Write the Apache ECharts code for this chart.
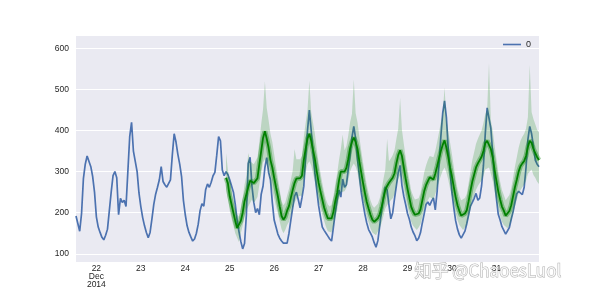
<!DOCTYPE html>
<html><head><meta charset="utf-8">
<script src="https://cdn.jsdelivr.net/npm/echarts@6/dist/echarts.min.js"></script>
<style>html,body{margin:0;padding:0;background:#fff}#c{width:600px;height:300px}</style>
</head><body><div id="c"></div>
<script>
// hours counted from Dec 21 2014 00:00
const firstHour = 13;
const lastHour = 263;
const forecastStartHour = 94;
const dayTickLabels = ['22\nDec\n2014','23','24','25','26','27','28','29','30','31'];
const yTickValues = [100,200,300,400,500,600];
const legendNames = ['0'];

const observed = [
192,192,155,198,283,318,338,336,312,288,250,
190,165,152,140,134,145,160,205,250,290,300,285,195,235,225,230,215,300,385,420,350,325,300,248,
215,188,168,152,139,152,185,220,245,262,280,312,276,268,262,266,280,340,392,372,342,318,288,230,
195,168,152,141,131,136,150,172,205,222,216,256,270,262,274,290,298,340,385,375,304,290,300,293,
280,265,250,220,182,154,130,112,125,195,320,335,265,225,200,210,195,245,265,310,334,298,280,225,
182,165,148,138,131,126,128,126,150,182,212,240,250,232,212,236,264,335,400,450,400,345,295,255,
217,190,165,157,150,143,136,131,165,200,231,255,238,282,262,268,305,340,383,410,380,330,290,250,
222,196,175,159,150,141,127,116,132,168,205,236,263,255,218,185,200,235,266,298,315,266,240,220,
198,184,165,153,144,132,138,151,175,197,220,226,218,228,236,207,252,318,385,442,472,432,355,300,
248,212,180,160,146,138,138,155,173,195,216,225,235,247,230,236,265,315,393,455,455,405,345,280,
235,196,182,166,157,148,144,164,184,202,225,246,252,255,244,262,310,378,410,392,362,328,318,312
];

const forecastMean = [
285,272,
240,220,200,180,163,160,180,200,228,245,262,278,276,272,276,284,318,350,382,398,380,358,328,310,
285,262,240,215,192,183,190,205,216,236,255,272,283,286,284,290,328,355,380,392,375,352,330,300,
273,252,232,212,198,186,183,186,202,228,248,278,300,297,300,309,330,357,372,383,372,355,325,298,
272,248,226,210,195,183,178,176,186,196,213,235,255,265,273,279,285,296,320,340,352,338,310,283,
258,236,214,203,195,191,198,208,230,252,267,277,286,285,281,295,313,332,350,365,376,358,336,310,
288,262,238,218,204,193,192,198,206,228,253,276,293,310,320,328,336,350,369,375,376,355,335,305,
278,252,232,215,205,193,196,204,218,240,262,280,300,313,320,326,338,360,375,370,355,345,335,328
];

const forecastLow = [
255,235,
205,185,168,150,132,128,150,168,190,205,215,235,232,225,230,238,268,295,322,330,318,300,272,255,
235,215,198,178,160,150,158,170,178,195,210,225,238,240,238,242,275,298,318,325,315,295,275,250,
228,210,195,180,165,155,150,152,168,188,205,232,250,248,252,260,278,300,312,320,312,298,270,248,
228,208,190,176,162,152,148,145,154,162,175,192,210,218,226,230,235,245,265,282,292,280,258,235,
215,196,178,168,162,158,164,172,190,208,222,230,238,236,232,245,260,275,290,302,310,298,280,258,
240,218,198,182,170,160,158,164,170,188,208,228,242,256,265,272,278,290,305,310,310,295,278,252,
230,210,192,178,170,160,162,168,180,198,215,230,248,258,262,268,278,295,308,305,292,285,275,270
];

const forecastHigh = [
345,305,
280,255,232,212,195,190,212,235,268,290,345,325,322,318,322,335,372,415,452,520,455,425,392,372,
342,312,285,255,228,218,225,242,258,280,302,355,330,332,330,338,385,418,450,522,445,418,392,355,
322,298,272,250,232,220,215,220,240,270,295,328,355,390,352,362,388,420,440,525,442,420,385,352,
322,295,268,248,230,218,212,210,222,235,255,282,305,380,325,332,340,352,380,405,480,402,368,335,
305,280,254,242,232,228,235,248,272,298,315,328,338,338,335,350,372,395,420,440,505,428,400,370,
342,312,282,258,242,230,228,236,246,272,300,328,348,368,380,390,400,418,440,450,565,425,400,365,
332,300,276,255,243,230,233,243,260,285,312,335,358,375,385,392,405,432,560,445,428,415,402,395
];

const hours = [];
for (let h = firstHour; h <= lastHour; h++) hours.push(String(h));
const pad = new Array(forecastStartHour - firstHour).fill(null);
const lowData = pad.concat(forecastLow);
const spanData = pad.concat(forecastHigh.map((v, i) => v - forecastLow[i]));
const meanData = pad.concat(forecastMean);

const chart = echarts.init(document.getElementById('c'), null, {renderer: 'canvas'});
const fontFam = '"Liberation Sans", Arial, sans-serif';
chart.setOption({
  animation: false,
  backgroundColor: '#ffffff',
  grid: {left: 76, right: 61, top: 36, bottom: 38, show: true, backgroundColor: '#EAEAF2', borderWidth: 0},
  legend: {
    data: [{name: legendNames[0], icon: 'rect'}],
    left: 503, top: 40, padding: 0,
    itemWidth: 18, itemHeight: 1.6, itemGap: 5,
    textStyle: {fontSize: 9, color: '#262626', fontFamily: fontFam}
  },
  xAxis: {
    type: 'category', data: hours, boundaryGap: false,
    axisLine: {show: false}, axisTick: {show: false}, splitLine: {show: false},
    axisLabel: {
      interval: (idx) => (firstHour + idx) % 24 === 0,
      formatter: (val) => {
        const h = Number(val);
        return dayTickLabels[(h - 24) / 24] || '';
      },
      color: '#262626', fontSize: 8.5, lineHeight: 8, margin: 3, fontFamily: fontFam
    }
  },
  yAxis: {
    type: 'value', min: 80, max: 630,
    axisLine: {show: false}, axisTick: {show: false},
    axisLabel: {customValues: yTickValues, color: '#262626', fontSize: 8.5, margin: 7, fontFamily: fontFam},
    splitLine: {show: true, showMinLine: false, showMaxLine: false, lineStyle: {color: '#ffffff', width: 1.2}}
  },
  series: [
    {name: legendNames[0], type: 'line', data: observed, showSymbol: false, symbol: 'none',
     lineStyle: {color: '#4C72B0', width: 1.7}, itemStyle: {color: '#4C72B0'}, z: 2},
    {name: 'lo', type: 'line', data: lowData, stack: 'band', showSymbol: false, symbol: 'none',
     lineStyle: {opacity: 0}, z: 3},
    {name: 'band', type: 'line', data: spanData, stack: 'band', showSymbol: false, symbol: 'none',
     lineStyle: {opacity: 0}, areaStyle: {color: 'rgba(0,128,0,0.28)'}, z: 3},
    {name: 'halo', type: 'line', data: meanData, showSymbol: false, symbol: 'none',
     lineStyle: {color: 'rgba(0,128,0,0.35)', width: 5}, z: 4},
    {name: 'mean', type: 'line', data: meanData, showSymbol: false, symbol: 'none',
     lineStyle: {color: '#008000', width: 1.8}, z: 5}
  ],
  graphic: [{
    type: 'text', left: 414, top: 262, z: 100,
    style: {text: '知乎 @ChaoesLuol', fontSize: 17, fontFamily: '"Noto Sans CJK SC", "Liberation Sans", sans-serif',
      fill: 'rgba(255,255,255,0.85)', stroke: 'rgba(110,110,110,0.55)', lineWidth: 1}
  }]
});
</script>
</body></html>
